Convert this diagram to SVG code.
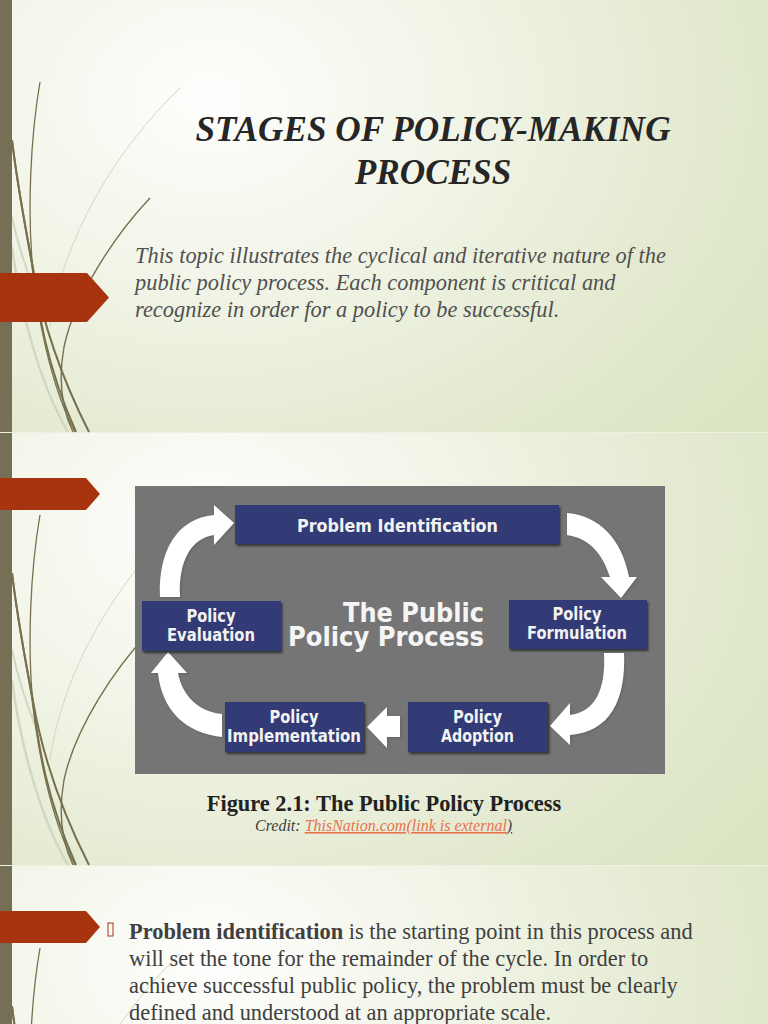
<svg xmlns="http://www.w3.org/2000/svg" width="768" height="1024" viewBox="0 0 768 1024">
<style>
.serif{font-family:"Liberation Serif","Times New Roman",serif}
.title{font-size:35.2px;font-style:italic;font-weight:bold;fill:#262626;text-anchor:middle}
.intro{font-size:22.4px;font-style:italic;fill:#505050}
.body{font-size:22.4px;fill:#404040}
.box{fill:#323a75;filter:url(#sh)}
.arrow{fill:#fff;filter:url(#sh2)}
.lab{font-family:"DejaVu Sans",Verdana,sans-serif;font-weight:bold;font-size:17px;fill:#f2f2f2;text-anchor:middle}
.big{font-family:"DejaVu Sans",Verdana,sans-serif;font-weight:bold;font-size:27px;fill:#f5f5f5;text-anchor:end}
.d{fill:none;stroke:#77704f}
.f{fill:none;stroke:#d3d7c2}
.bar{fill:#756f55}
.ban{fill:#a7340f}
</style>
<defs>
<radialGradient id="bg" gradientUnits="userSpaceOnUse" cx="210" cy="90" r="680" gradientTransform="translate(0 30) scale(1 .75)">
<stop offset="0" stop-color="#fefefd"/><stop offset=".35" stop-color="#f2f5e8"/><stop offset=".75" stop-color="#e2e9ce"/><stop offset="1" stop-color="#dbe4c2"/>
</radialGradient>
<filter id="sh" x="-5%" y="-10%" width="115%" height="125%"><feDropShadow dx="1.5" dy="2" stdDeviation="1" flood-color="#222" flood-opacity=".8"/></filter>
<filter id="sh2" x="-10%" y="-10%" width="125%" height="125%"><feDropShadow dx="1" dy="1" stdDeviation="1" flood-color="#444" flood-opacity=".4"/></filter>
<g id="wisps">
<path class="f" stroke-width="1" d="M180 88C115 150 62 240 50 327"/>
<path class="f" stroke-width="2" d="M12 217C18 245 28 275 37 297"/>
<path class="f" stroke-width="2.500" d="M12 247C20 310 40 385 68 432"/>
<path class="d" stroke-width="1.300" d="M40 82C30 140 28 210 32 260C36 310 50 385 75 432"/>
<path class="d" stroke-width="2" d="M12 140C18 190 26 230 32 264C38 310 46 365 76 432"/>
<path class="d" stroke-width="2" d="M12 140C18 190 26 230 33 268C42 320 60 375 89 432"/>
<path class="d" stroke-width="1.400" d="M150 198C115 235 75 295 64 347C59 375 60 405 73 432"/>
</g>
</defs>
<rect width="768" height="1024" fill="#eef1e2"/>
<g id="slide1">
<rect width="768" height="432" fill="url(#bg)"/>
<use href="#wisps"/>
<rect class="bar" width="12" height="432"/>
<path class="ban" d="M0 273H87L109 297.500L87 322H0Z"/>
<text class="serif title" x="433" y="141">STAGES OF POLICY-MAKING</text>
<text class="serif title" x="433" y="184">PROCESS</text>
<text class="serif intro" x="135" y="263">This topic illustrates the cyclical and iterative nature of the</text>
<text class="serif intro" x="135" y="290">public policy process. Each component is critical and</text>
<text class="serif intro" x="135" y="317">recognize in order for a policy to be successful.</text>
</g>
<g id="slide2">
<g transform="translate(0 433)"><rect width="768" height="432" fill="url(#bg)"/><use href="#wisps"/><rect class="bar" width="12" height="432"/></g>
<path class="ban" d="M0 478H86L100 494L86 510H0Z"/>
<rect id="panel" x="135" y="486" width="530" height="288" fill="#757575"/>
<g id="connectors">
<path class="arrow" d="M567 513C600 516 622 540 629 577H637L621 598L601 577H610C602 552 588 538 567 535Z"/>
<path class="arrow" d="M604 653H624C626 700 610 732 570 735V745L550 726L570 703V715C595 712 606 690 604 653Z"/>
<path class="arrow" d="M400 716V737H387V748L367 727L387 707V716Z"/>
<path class="arrow" d="M222 714V737C185 733 162 710 158 673H151L168 652L187 673H178C182 695 198 712 222 714Z"/>
<path class="arrow" d="M160 597C158 550 178 518 214 515V505L234 523L214 545V535C192 538 178 560 180 597Z"/>
</g>
<g id="problem-identification"><rect class="box" x="235" y="505" width="324" height="39"/><text class="lab" x="397.500" y="532" textLength="201" lengthAdjust="spacingAndGlyphs">Problem Identification</text></g>
<g id="policy-evaluation"><rect class="box" x="142" y="601" width="139" height="50"/><text class="lab" x="211" y="621.500" textLength="49" lengthAdjust="spacingAndGlyphs">Policy</text><text class="lab" x="211" y="641" textLength="88" lengthAdjust="spacingAndGlyphs">Evaluation</text></g>
<g id="policy-formulation"><rect class="box" x="509" y="600" width="138" height="49"/><text class="lab" x="577" y="620" textLength="49" lengthAdjust="spacingAndGlyphs">Policy</text><text class="lab" x="577" y="639" textLength="100" lengthAdjust="spacingAndGlyphs">Formulation</text></g>
<g id="policy-adoption"><rect class="box" x="408" y="702" width="140" height="50"/><text class="lab" x="477.500" y="722.500" textLength="49" lengthAdjust="spacingAndGlyphs">Policy</text><text class="lab" x="477.500" y="742" textLength="73" lengthAdjust="spacingAndGlyphs">Adoption</text></g>
<g id="policy-implementation"><rect class="box" x="225" y="702" width="139" height="50"/><text class="lab" x="294" y="722.500" textLength="49" lengthAdjust="spacingAndGlyphs">Policy</text><text class="lab" x="294" y="742" textLength="134" lengthAdjust="spacingAndGlyphs">Implementation</text></g>
<g id="center-title"><text class="big" x="484" y="622" textLength="141" lengthAdjust="spacingAndGlyphs">The Public</text><text class="big" x="484" y="645.500" textLength="196" lengthAdjust="spacingAndGlyphs">Policy Process</text></g>
<text class="serif" x="384" y="811" text-anchor="middle" font-size="22.400" font-weight="bold" fill="#222">Figure 2.1: The Public Policy Process</text>
<text class="serif" x="255" y="831" font-size="16" font-style="italic" fill="#404040">Credit: <tspan fill="#e8734f" text-decoration="underline">ThisNation.com(link is external</tspan><tspan text-decoration="underline">)</tspan></text>
</g>
<g id="slide3">
<g transform="translate(0 866)"><rect width="768" height="432" fill="url(#bg)"/><use href="#wisps"/><rect class="bar" width="12" height="432"/></g>
<path class="ban" d="M0 911H86L100 927L86 943H0Z"/>
<rect x="108" y="923" width="5" height="13" fill="none" stroke="#a7340f" stroke-width="1"/>
<text class="serif body" x="129" y="939"><tspan font-weight="bold">Problem identification</tspan> is the starting point in this process and</text>
<text class="serif body" x="129" y="966">will set the tone for the remainder of the cycle. In order to</text>
<text class="serif body" x="129" y="993">achieve successful public policy, the problem must be clearly</text>
<text class="serif body" x="129" y="1020">defined and understood at an appropriate scale.</text>
</g>
</svg>
